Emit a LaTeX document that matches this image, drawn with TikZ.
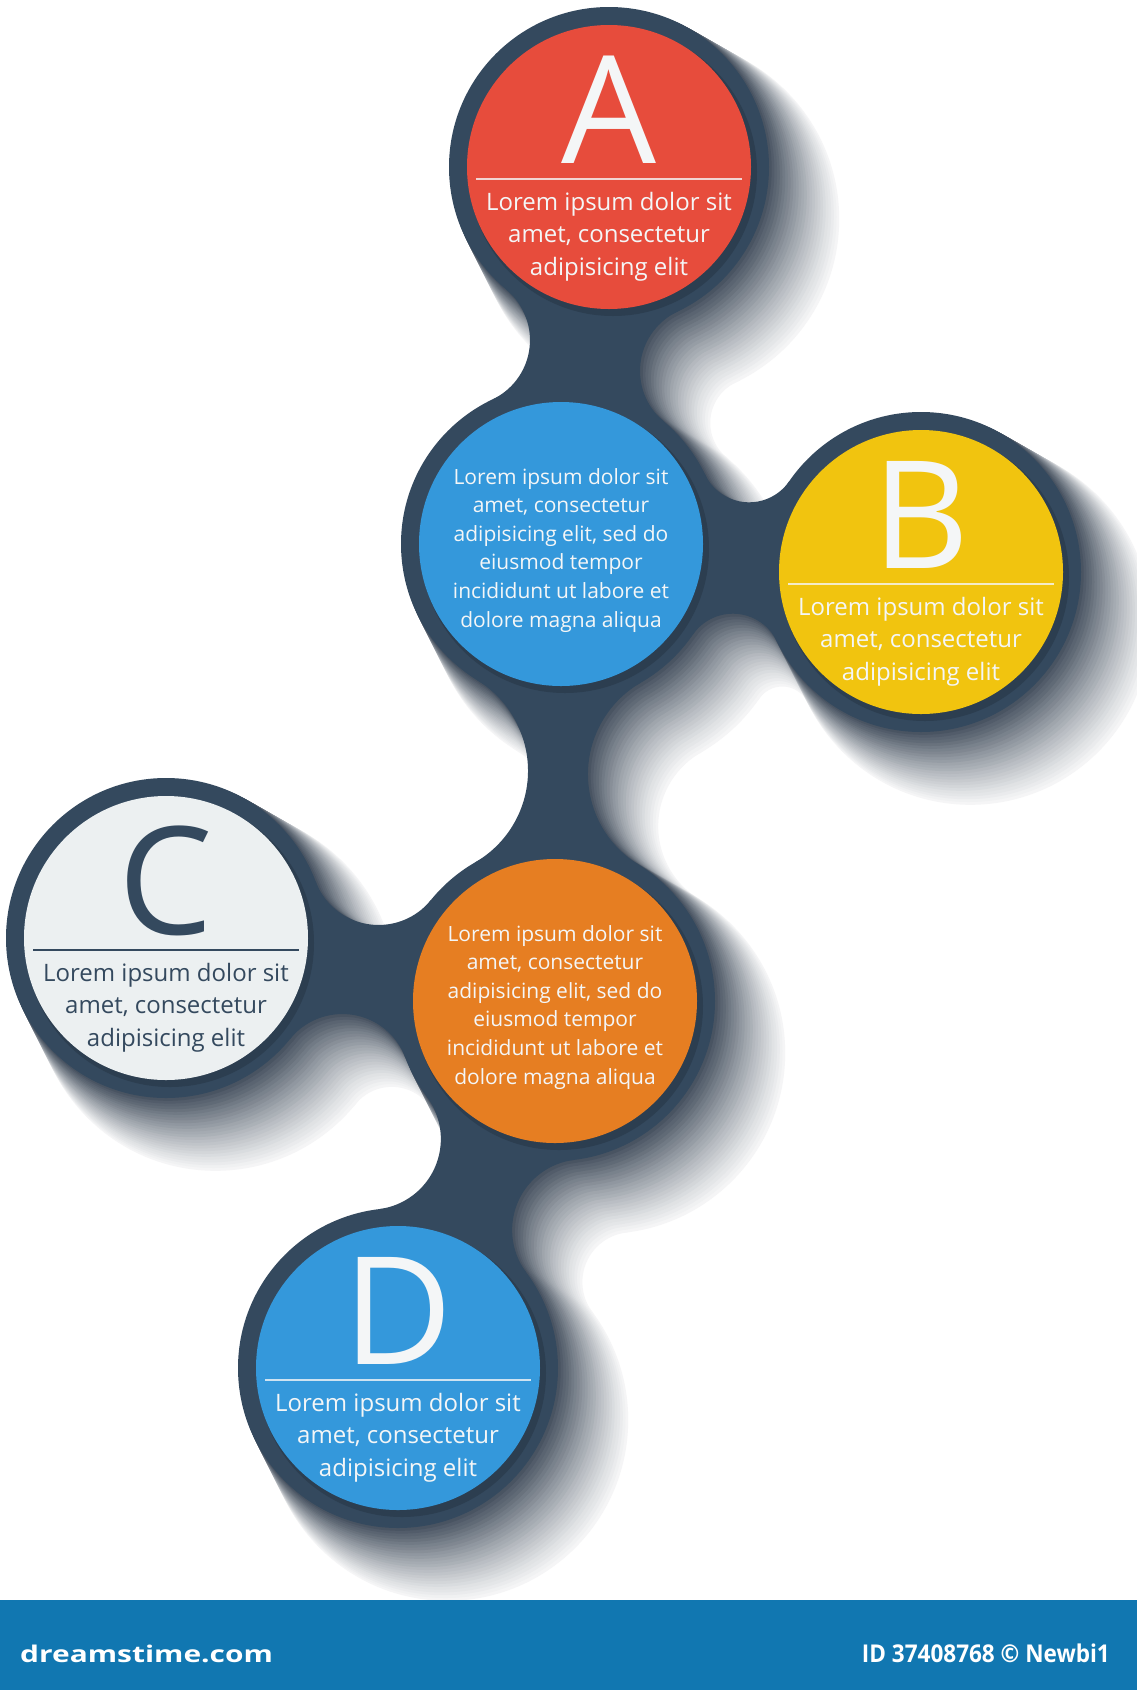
\documentclass[tikz,border=0pt]{standalone}
\usepackage{fontspec}
\usepackage{graphicx}
\setmainfont{Open Sans}
\usetikzlibrary{calc}
\definecolor{ringc}{HTML}{34495E}
\definecolor{ringdark}{HTML}{2C3E50}
\definecolor{shadowc}{HTML}{2E3B4B}
\definecolor{redc}{HTML}{E74C3C}
\definecolor{bluec}{HTML}{3498DB}
\definecolor{yellowc}{HTML}{F1C40F}
\definecolor{orangec}{HTML}{E67E22}
\definecolor{lightc}{HTML}{ECF0F1}
\definecolor{textw}{HTML}{F4F6F7}
\definecolor{bannerc}{HTML}{1177B1}

\newcommand{\RRR}{160}
\def\offx{0}\def\offy{0}

% concave "metaball" neck between two circles of radius \RRR
\newcommand{\neckpiece}[4]{%
  \path (#1); \pgfgetlastxy{\nkPx}{\nkPy}%
  \path (#2); \pgfgetlastxy{\nkQx}{\nkQy}%
  \pgfmathsetmacro\nkPX{\nkPx/100}%
  \pgfmathsetmacro\nkPY{\nkPy/100}%
  \pgfmathsetmacro\nkQX{\nkQx/100}%
  \pgfmathsetmacro\nkQY{\nkQy/100}%
  \pgfmathsetmacro\nkDx{\nkQX-\nkPX}%
  \pgfmathsetmacro\nkDy{\nkQY-\nkPY}%
  \pgfmathsetmacro\nkD{veclen(\nkDx,\nkDy)}%
  \pgfmathsetmacro\nkAng{atan2(\nkDy,\nkDx)}%
  \pgfmathsetmacro\nkW{#3/100}%
  \pgfmathsetmacro\nkR{\RRR/100}%
  \pgfmathsetmacro\nkRho{(\nkD*\nkD/4+\nkW*\nkW-\nkR*\nkR)/(2*(\nkR-\nkW))}%
  \pgfmathsetmacro\nkH{\nkW+\nkRho}%
  \pgfmathsetmacro\nkPhi{atan2(\nkH,\nkD/2)}%
  \pgfmathsetmacro\nkax{100*\nkPX+\RRR*cos(\nkAng-\nkPhi)+\offx}%
  \pgfmathsetmacro\nkay{100*\nkPY+\RRR*sin(\nkAng-\nkPhi)+\offy}%
  \pgfmathsetmacro\nkbx{100*\nkQX+\RRR*cos(\nkAng+180-\nkPhi)+\offx}%
  \pgfmathsetmacro\nkby{100*\nkQY+\RRR*sin(\nkAng+180-\nkPhi)+\offy}%
  \pgfmathsetmacro\nkrho{100*\nkRho}%
  \pgfmathsetmacro\nksa{\nkAng+180-\nkPhi}%
  \pgfmathsetmacro\nkea{\nkAng+\nkPhi}%
  \pgfmathsetmacro\nksb{\nkAng-\nkPhi}%
  \pgfmathsetmacro\nkeb{\nkAng-180+\nkPhi}%
  \filldraw[#4] ($(#1)+(\offx pt,\offy pt)$) -- (\nkax pt,\nkay pt)
     arc[start angle=\nksa, end angle=\nkea, radius=\nkrho pt]
     -- ($(#2)+(\offx pt,\offy pt)$) -- (\nkbx pt,\nkby pt)
     arc[start angle=\nksb, end angle=\nkeb, radius=\nkrho pt] -- cycle;
}

% the whole dark body: circles and necks
\newcommand{\blob}[1]{%
  \foreach \cc in {A,M1,B,C,M2,D}{%
    \filldraw[#1] ($(\cc)+(\offx pt,\offy pt)$) circle[radius=\RRR pt];}
  \neckpiece{A}{M1}{56}{#1}%
  \neckpiece{M1}{B}{56}{#1}%
  \neckpiece{M1}{M2}{30}{#1}%
  \neckpiece{M2}{C}{46}{#1}%
  \neckpiece{M2}{D}{45}{#1}%
}

\tikzset{
  disc/.style={circle, inner sep=0pt, minimum size=284pt},
  bigletter/.style={anchor=base, inner sep=0pt, font=\fontsize{150}{150}\selectfont},
  smalltext/.style={anchor=base, inner sep=0pt, font=\fontsize{24}{24}\selectfont},
  midtext/.style={anchor=base, inner sep=0pt, text=textw, font=\fontsize{21}{21}\selectfont},
  rulestyle/.style={line width=1.6pt},
}

\newcommand{\lettercircle}[5]{% name, disc colour, text colour, rule colour, letter
  \fill[ringdark] ($(#1)+(4,-5)$) circle[radius=144pt];
  \node[disc, fill=#2] (#1-disc) at (#1) {};
  \node[bigletter, text=#3] (#1-letter) at ($(#1)+(0,4)$) {#5};
  \draw[rulestyle, #4] ($(#1)+(-133,-12)$) coordinate (#1-rl) -- ($(#1)+(133,-12)$) coordinate (#1-rr);
  \node[smalltext, text=#3] (#1-t1) at ($(#1)+(0,-43)$) {Lorem ipsum dolor sit};
  \node[smalltext, text=#3] (#1-t2) at ($(#1)+(0,-75.5)$) {amet, consectetur};
  \node[smalltext, text=#3] (#1-t3) at ($(#1)+(0,-108)$) {adipisicing elit};
}

\newcommand{\textcircle}[2]{% name, disc colour
  \fill[ringdark] ($(#1)+(4,-5)$) circle[radius=144pt];
  \node[disc, fill=#2] (#1-disc) at (#1) {};
  \node[midtext] (#1-t1) at ($(#1)+(0,60)$) {Lorem ipsum dolor sit};
  \node[midtext] (#1-t2) at ($(#1)+(0,31.4)$) {amet, consectetur};
  \node[midtext] (#1-t3) at ($(#1)+(0,2.8)$) {adipisicing elit, sed do};
  \node[midtext] (#1-t4) at ($(#1)+(0,-25.8)$) {eiusmod tempor};
  \node[midtext] (#1-t5) at ($(#1)+(0,-54.4)$) {incididunt ut labore et};
  \node[midtext] (#1-t6) at ($(#1)+(0,-83)$) {dolore magna aliqua};
}

\begin{document}
\begin{tikzpicture}[x=1pt, y=1pt]
\useasboundingbox (0,0) rectangle (1137,-1690);
\fill[white] (0,0) rectangle (1137,-1690);

% circle centres (image coordinates, y downwards)
\coordinate (A)  at (609,-167);
\coordinate (M1) at (561,-544);
\coordinate (B)  at (921,-572);
\coordinate (C)  at (166,-938);
\coordinate (M2) at (555,-1001);
\coordinate (D)  at (398,-1368);

% long soft shadow towards the lower right: far (light) copies first
\foreach \k in {52,50,...,2}{%
  \pgfmathtruncatemacro\pc{92*(0.75*(1-\k/56)+0.25*(1-\k/56)*(1-\k/56))}%
  \pgfmathsetmacro\lw{0.8*\k}%
  \pgfmathsetmacro\offx{0.95*\k}\pgfmathsetmacro\offy{-\k}%
  \blob{fill=shadowc!\pc!white, draw=shadowc!\pc!white, line width=\lw pt, line join=round}%
}

% dark body
\def\offx{0}\def\offy{0}
\blob{fill=ringc, draw=none}

% coloured discs with their texts
\lettercircle{A}{redc}{textw}{textw!80!redc}{A}
\lettercircle{B}{yellowc}{textw}{textw!80!yellowc}{B}
\lettercircle{C}{lightc}{ringc}{ringc}{C}
\lettercircle{D}{bluec}{textw}{textw!80!bluec}{D}
\textcircle{M1}{bluec}
\textcircle{M2}{orangec}

% banner
\fill[bannerc] (0,-1600) rectangle (1137,-1690);
\node[anchor=base west, inner sep=0pt, text=white, font=\bfseries\fontsize{23}{23}\selectfont] (logo) at (20,-1662.7) {\scalebox{1.3}[1]{dreamstime.com}};
\node[anchor=base east, inner sep=0pt, text=white, font=\bfseries\fontsize{24.5}{24.5}\selectfont] (credit) at (1110,-1662.7) {\scalebox{0.92}[1]{ID 37408768 © Newbi1}};
\end{tikzpicture}
\end{document}
